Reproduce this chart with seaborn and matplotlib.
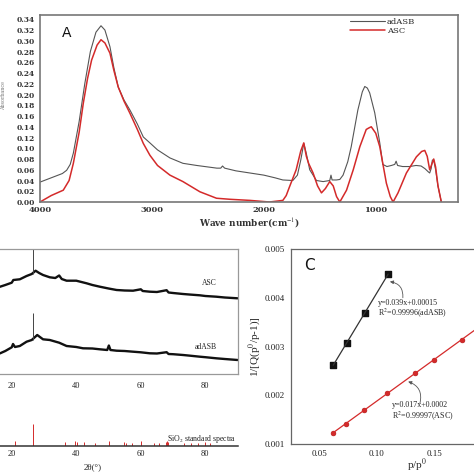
import matplotlib
matplotlib.use("Agg")
import matplotlib.pyplot as plt
from matplotlib.ticker import MultipleLocator
import seaborn as sns

# ---------------- Panel A : FTIR ----------------
ftir_adasb_wn = [4000, 3900, 3800, 3762, 3730, 3702, 3650, 3600, 3550, 3500, 3455, 3420, 3375,
                 3340, 3301, 3250, 3196, 3130, 3077, 3018, 2950, 2839, 2723, 2600, 2420, 2385,
                 2369, 2350, 2250, 2125, 2000, 1900, 1830, 1741, 1700, 1670, 1643, 1620, 1590,
                 1560, 1530, 1470, 1411, 1400, 1390, 1351, 1321, 1292, 1250, 1219, 1160, 1120,
                 1098, 1075, 1054, 1009, 964, 937, 900, 860, 830, 818, 805, 760, 699, 640, 595,
                 560, 530, 518, 505, 494, 482, 465, 444, 414]
ftir_adasb_abs = [0.037, 0.045, 0.053, 0.059, 0.070, 0.091, 0.150, 0.220, 0.280, 0.316, 0.328,
                  0.320, 0.289, 0.250, 0.214, 0.190, 0.171, 0.145, 0.121, 0.110, 0.097, 0.082,
                  0.072, 0.068, 0.063, 0.063, 0.067, 0.063, 0.058, 0.054, 0.050, 0.045, 0.041,
                  0.040, 0.050, 0.078, 0.109, 0.090, 0.060, 0.050, 0.040, 0.038, 0.040, 0.050,
                  0.041, 0.041, 0.042, 0.050, 0.075, 0.103, 0.171, 0.205, 0.215, 0.212, 0.203,
                  0.166, 0.110, 0.070, 0.066, 0.068, 0.070, 0.076, 0.068, 0.066, 0.066, 0.068,
                  0.067, 0.062, 0.056, 0.054, 0.062, 0.078, 0.078, 0.060, 0.030, 0.000]
ftir_asc_wn = [4000, 3900, 3792, 3740, 3702, 3650, 3613, 3575, 3539, 3490, 3455, 3420, 3375,
               3340, 3301, 3250, 3196, 3130, 3077, 3018, 2950, 2839, 2723, 2571, 2423, 2300,
               2125, 1950, 1830, 1800, 1771, 1711, 1670, 1643, 1620, 1600, 1560, 1520, 1485,
               1450, 1411, 1380, 1350, 1321, 1261, 1201, 1142, 1085, 1060, 1040, 1000, 964,
               905, 870, 845, 801, 726, 637, 590, 562, 540, 518, 500, 482, 465, 444, 414]
ftir_asc_abs = [0.000, 0.012, 0.022, 0.040, 0.072, 0.130, 0.184, 0.230, 0.264, 0.292, 0.302,
                0.296, 0.277, 0.245, 0.214, 0.188, 0.165, 0.135, 0.109, 0.087, 0.068, 0.050,
                0.038, 0.019, 0.007, 0.005, 0.003, 0.000, 0.003, 0.012, 0.028, 0.060, 0.095,
                0.110, 0.085, 0.072, 0.054, 0.030, 0.017, 0.025, 0.038, 0.030, 0.010, 0.000,
                0.022, 0.060, 0.103, 0.135, 0.138, 0.140, 0.128, 0.103, 0.035, 0.010, 0.000,
                0.017, 0.054, 0.084, 0.094, 0.096, 0.085, 0.060, 0.070, 0.080, 0.065, 0.030,
                0.000]
ftir_xticks = [4000, 3000, 2000, 1000]
ftir_yticks = [0.00, 0.02, 0.04, 0.06, 0.08, 0.10, 0.12, 0.14, 0.16, 0.18, 0.20, 0.22, 0.24,
               0.26, 0.28, 0.30, 0.32, 0.34]

# ---------------- Panel B : XRD ----------------
xrd_asc_2theta = [10, 14, 16.4, 18, 20, 20.5, 22.5, 24.6, 26.2, 27.4, 28.5, 29.7, 31.8, 33.5,
                  34.7, 35.5, 37, 40, 43.2, 45, 47.3, 50, 52.5, 55, 57.6, 60, 60.6, 62.8, 65,
                  68, 68.6, 70, 73.1, 75, 78.3, 80, 83.4, 86, 90]
xrd_asc_int = [84, 86, 87.3, 89, 91.3, 94, 94.7, 98, 100, 103.3, 101, 99, 96.7, 96, 98.5, 95,
               93.3, 93.3, 90.7, 89, 87.3, 85.5, 84, 83.5, 83.3, 84.7, 83, 82.3, 82, 83.8, 81.5,
               81, 80, 79.5, 78.7, 78, 77.3, 76.5, 75.7]
xrd_adasb_2theta = [10, 14, 16.4, 18, 20, 20.4, 21, 22.5, 24.6, 26.2, 27.9, 29.7, 31.8, 34.7,
                    37, 40, 42.1, 45, 47.3, 49.6, 50.1, 50.6, 52.5, 55, 57.6, 60, 62.8, 65, 68,
                    68.6, 70, 73.1, 75, 78.3, 80, 83.4, 86, 90]
xrd_adasb_int = [17, 19.5, 20.7, 23, 26.7, 30, 27, 28, 32.3, 34, 39, 34.7, 34, 31.3, 28, 27,
                 25.7, 25.5, 24.7, 24, 28.5, 24, 23.3, 23, 22.3, 21.7, 20.7, 20.5, 21.8, 20,
                 19.8, 19, 18.4, 17.3, 16.8, 15.7, 15, 14]
xrd_sharp_2theta = [26.6]
xrd_asc_sharp = [(100, 125)]
xrd_adasb_sharp = [(34, 61.3)]
sio2_2theta = [20.86, 26.64, 36.54, 39.46, 40.29, 42.45, 45.79, 50.14, 54.87, 55.33, 57.24,
               59.96, 64.03, 65.79, 67.74, 68.14, 68.31, 73.46, 75.66, 77.67, 79.88, 81.49]
sio2_int = [22, 100, 18, 22, 16, 18, 15, 24, 16, 12, 12, 22, 12, 12, 20, 22, 18, 12, 15, 12,
            18, 14]
xrd_xticks = [20, 40, 60, 80]

# ---------------- Panel C : BET ----------------
bet_adasb_x = [0.0622, 0.0738, 0.0897, 0.110]
bet_adasb_y = [0.00262, 0.00307, 0.00368, 0.00449]
bet_asc_x = [0.0622, 0.0730, 0.0891, 0.109, 0.1338, 0.1497, 0.174]
bet_asc_y = [0.00122, 0.00142, 0.00170, 0.00204, 0.00246, 0.00272, 0.00314]
bet_xticks = [0.05, 0.10, 0.15]
bet_xticklabels = ["0.05", "0.10", "0.15"]
bet_yticks = [0.001, 0.002, 0.003, 0.004, 0.005]
bet_adasb_eq = ["y=0.039x+0.00015", "R$^2$=0.99996(adASB)"]
bet_asc_eq = ["y=0.017x+0.0002", "R$^2$=0.99997(ASC)"]

# ---------------- style ----------------
sns.set_style("white")
plt.rcParams["font.family"] = ["Liberation Serif", "DejaVu Serif"]
plt.rcParams["mathtext.fontset"] = "stix"

RED = "#d42a2a"
W = H = 474.0

fig = plt.figure(figsize=(4.74, 4.74), dpi=100)
fig.patch.set_facecolor("white")


def box(l, t, r, b):
    return [l / W, (H - b) / H, (r - l) / W, (b - t) / H]


# ---------------- A ----------------
axA = fig.add_axes(box(40, 15, 458, 202))
sns.lineplot(x=ftir_adasb_wn, y=ftir_adasb_abs, ax=axA, color="#555555", lw=0.8,
             label="adASB", sort=False, estimator=None)
sns.lineplot(x=ftir_asc_wn, y=ftir_asc_abs, ax=axA, color=RED, lw=1.1,
             label="ASC", sort=False, estimator=None)
axA.set_xlim(4000, 265)
axA.set_ylim(0, 0.348)
axA.set_xticks(ftir_xticks)
axA.set_yticks(ftir_yticks)
axA.set_yticklabels([f"{v:.2f}" for v in ftir_yticks], family="DejaVu Serif",
                    fontsize=5.4, fontweight="bold", color="#333333")
axA.set_xticklabels([str(v) for v in ftir_xticks], family="DejaVu Serif",
                    fontsize=6.0, fontweight="bold", color="#333333")
axA.tick_params(axis="y", direction="out", length=2, width=0.6, pad=1.5, colors="#333333")
axA.tick_params(axis="x", direction="in", length=3, width=0.6, pad=3.0, colors="#333333")
for s in axA.spines.values():
    s.set_color("#777777")
    s.set_linewidth(1.2)
axA.set_xlabel("Wave number(cm$^{-1}$)", family="DejaVu Serif", fontsize=6.4,
               fontweight="bold", color="#333333")
axA.xaxis.set_label_coords(0.5, -0.11)
axA.xaxis.label.set_va("center")
axA.set_ylabel("Absorbance", family="DejaVu Serif", fontsize=3.5, color="#777777")
axA.yaxis.set_label_coords(-0.088, 0.57)
axA.yaxis.label.set_va("center")
axA.text(0.064, 0.904, "A", transform=axA.transAxes, family="DejaVu Sans",
         fontsize=10, ha="center", va="center", color="#111111")
axA.legend(loc="upper left", bbox_to_anchor=(0.742, 0.985), frameon=False,
           handlelength=4.2, handletextpad=0.2, labelspacing=0.1,
           borderpad=0, borderaxespad=0,
           prop={"family": "DejaVu Serif", "size": 6})

# ---------------- B (upper) ----------------
axB = fig.add_axes(box(-52.8, 249, 237.6, 374))
sns.lineplot(x=xrd_asc_2theta, y=xrd_asc_int, ax=axB, color="#111111", lw=1.7,
             estimator=None)
sns.lineplot(x=xrd_adasb_2theta, y=xrd_adasb_int, ax=axB, color="#111111", lw=1.7,
             estimator=None)
axB.vlines(xrd_sharp_2theta, [v[0] for v in xrd_asc_sharp], [v[1] for v in xrd_asc_sharp],
           color="#444444", lw=0.7)
axB.vlines(xrd_sharp_2theta, [v[0] for v in xrd_adasb_sharp],
           [v[1] for v in xrd_adasb_sharp], color="#444444", lw=0.7)
axB.set_xlim(0, 90)
axB.set_ylim(0, 125)
axB.set_xticks(xrd_xticks)
axB.set_xticklabels([str(v) for v in xrd_xticks], fontsize=6)
axB.set_yticks([])
axB.tick_params(axis="x", direction="in", length=3, width=0.6, pad=5.5, colors="#222222")
for s in axB.spines.values():
    s.set_color("#999999")
    s.set_linewidth(0.9)
axB.text(81.2, 90.7, "ASC", fontsize=5.5, ha="center", va="center", color="#222222")
axB.text(80.2, 26.7, "adASB", fontsize=5.5, ha="center", va="center", color="#222222")

# ---------------- B (lower, SiO2 standard) ----------------
axB2 = fig.add_axes(box(-52.8, 420, 237.6, 446))
axB2.vlines(sio2_2theta, 0, sio2_int, color=RED, lw=0.7)
axB2.set_xlim(0, 90)
axB2.set_ylim(0, 118)
axB2.set_xticks(xrd_xticks)
axB2.set_xticklabels([str(v) for v in xrd_xticks], fontsize=6)
axB2.set_yticks([])
axB2.tick_params(axis="x", direction="in", length=2.5, width=0.6, pad=3, colors="#222222")
for k in ("left", "right", "top"):
    axB2.spines[k].set_visible(False)
axB2.spines["bottom"].set_color("#333333")
axB2.spines["bottom"].set_linewidth(1.1)
axB2.patch.set_alpha(0)
axB2.text(0.995, 0.26, "SiO$_{2}$ standard spectra", transform=axB2.transAxes,
          fontsize=5.6, ha="right", va="center", color="#222222")
axB2.set_xlabel("2θ(°)", fontsize=6.5, color="#222222")
axB2.xaxis.set_label_coords(0.5, -0.8)
axB2.xaxis.label.set_va("center")

# ---------------- C ----------------
axC = fig.add_axes(box(290.5, 249, 549, 444))
axC.set_ylim(0.001, 0.005)
axC.set_xlim(bet_asc_x[0], 0.25)
sns.regplot(x=bet_asc_x, y=bet_asc_y, ax=axC, ci=None, truncate=False, marker="o",
            color=RED, scatter_kws={"s": 12, "edgecolor": "#b01010", "linewidths": 0.4,
                                    "alpha": 1},
            line_kws={"lw": 0.9})
sns.regplot(x=bet_adasb_x, y=bet_adasb_y, ax=axC, ci=None, truncate=True, marker="s",
            color="#111111", scatter_kws={"s": 17, "alpha": 1},
            line_kws={"lw": 0.9, "color": "#333333"})
axC.set_xlim(0.025, 0.25)
axC.set_ylim(0.001, 0.005)
axC.set_xticks(bet_xticks)
axC.set_xticklabels(bet_xticklabels, fontsize=6.5)
axC.set_yticks(bet_yticks)
axC.set_yticklabels([f"{v:.3f}" for v in bet_yticks], fontsize=6.5)
axC.yaxis.set_minor_locator(MultipleLocator(0.0005))
axC.tick_params(axis="both", which="major", direction="in", length=3, width=0.6,
                colors="#222222")
axC.tick_params(axis="x", pad=4)
axC.tick_params(axis="y", pad=4)
axC.tick_params(axis="y", which="minor", direction="in", length=2, width=0.5,
                colors="#222222")
for s in axC.spines.values():
    s.set_color("#666666")
    s.set_linewidth(0.9)
axC.set_xlabel("p/p$^{0}$", fontsize=8, color="#222222")
axC.xaxis.set_label_coords((416.7 - 290.5) / 258.5, -0.108)
axC.xaxis.label.set_va("center")
axC.set_ylabel("1/[Q(p$^{0}$/p-1)]", fontsize=8, color="#222222")
axC.yaxis.set_label_coords(-0.14, 0.5)
axC.yaxis.label.set_va("center")
axC.text(0.072, 0.913, "C", transform=axC.transAxes, family="DejaVu Sans", fontsize=11,
         ha="center", va="center", color="#111111")
axC.text(0.1013, 0.00390, bet_adasb_eq[0], fontsize=5.8, ha="left", va="center")
axC.text(0.1013, 0.00367, bet_adasb_eq[1], fontsize=5.8, ha="left", va="center")
axC.text(0.113, 0.00180, bet_asc_eq[0], fontsize=5.8, ha="left", va="center")
axC.text(0.113, 0.00156, bet_asc_eq[1], fontsize=5.8, ha="left", va="center")
arrow = dict(arrowstyle="-|>", color="#555555", lw=0.6, mutation_scale=5,
             connectionstyle="arc3,rad=0.45", shrinkA=0, shrinkB=0)
axC.annotate("", xy=(0.1115, 0.00433), xytext=(0.1228, 0.00400), arrowprops=arrow)
axC.annotate("", xy=(0.1274, 0.00228), xytext=(0.1376, 0.00183), arrowprops=arrow)

fig.savefig("out.png", dpi=100)
